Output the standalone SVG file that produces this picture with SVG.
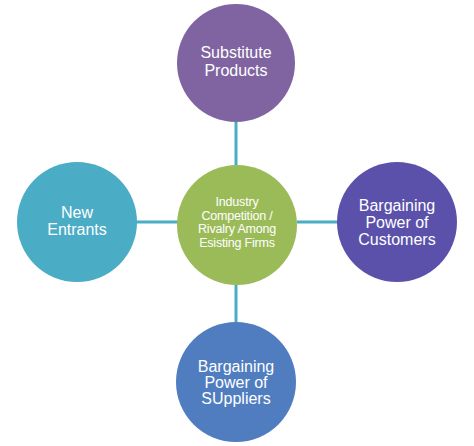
<svg xmlns="http://www.w3.org/2000/svg" width="474" height="446" viewBox="0 0 474 446">
<style>
.lbl{font-family:"Liberation Sans",Arial,sans-serif;font-size:16px;fill:#ffffff;text-anchor:middle}
.sm{font-size:12.5px;letter-spacing:-0.2px}
.con{stroke:#4bacc6;stroke-width:3;fill:none}
</style>
<rect width="474" height="446" fill="#ffffff"/>
<g id="connectors">
<line class="con" x1="236" y1="122" x2="236" y2="166"/>
<line class="con" x1="236" y1="284" x2="236" y2="322"/>
<line class="con" x1="136" y1="222" x2="178" y2="222"/>
<line class="con" x1="297" y1="222" x2="338" y2="222"/>
</g>
<g id="substitute">
<circle cx="236" cy="63" r="59" fill="#8064a2"/>
<text class="lbl" x="236" y="58">Substitute</text>
<text class="lbl" x="236" y="76">Products</text>
</g>
<g id="center">
<circle cx="237" cy="225" r="60" fill="#9bbb59"/>
<text class="lbl sm" x="237" y="206">Industry</text>
<text class="lbl sm" x="237" y="219.5">Competition /</text>
<text class="lbl sm" x="237" y="233">Rivalry Among</text>
<text class="lbl sm" x="237" y="246.5">Esisting Firms</text>
</g>
<g id="entrants">
<circle cx="77" cy="222" r="60" fill="#4bacc6"/>
<text class="lbl" x="77" y="218">New</text>
<text class="lbl" x="77" y="235">Entrants</text>
</g>
<g id="customers">
<circle cx="397" cy="222" r="60" fill="#5b51ab"/>
<text class="lbl" x="397" y="211">Bargaining</text>
<text class="lbl" x="397" y="228">Power of</text>
<text class="lbl" x="397" y="245">Customers</text>
</g>
<g id="suppliers">
<circle cx="236" cy="382" r="60" fill="#4f7dc0"/>
<text class="lbl" x="236" y="372">Bargaining</text>
<text class="lbl" x="236" y="388">Power of</text>
<text class="lbl" x="236" y="404">SUppliers</text>
</g>
</svg>
